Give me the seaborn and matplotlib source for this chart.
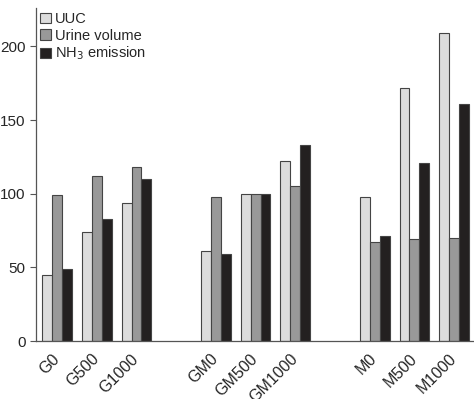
import pandas as pd
import seaborn as sns
import matplotlib.pyplot as plt

treatments = ['G0', 'G500', 'G1000', 'GM0', 'GM500', 'GM1000', 'M0', 'M500', 'M1000']
uuc = [45, 74, 94, 61, 100, 122, 98, 172, 209]
urine_volume = [99, 112, 118, 98, 100, 105, 67, 69, 70]
nh3_emission = [49, 83, 110, 59, 100, 133, 71, 121, 161]
series_names = ['UUC', 'Urine volume', 'NH$_3$ emission']

# blank slots between the G, GM and M groups
order = ['G0', 'G500', 'G1000', '', 'GM0', 'GM500', 'GM1000', ' ', 'M0', 'M500', 'M1000']

df = pd.DataFrame({'treatment': treatments,
                   series_names[0]: uuc,
                   series_names[1]: urine_volume,
                   series_names[2]: nh3_emission})
df = df.melt(id_vars='treatment', var_name='series', value_name='value')

sns.set_style('ticks')
plt.rcParams['font.family'] = ['Liberation Sans', 'DejaVu Sans']

fig = plt.figure(figsize=(4.74, 3.99), dpi=100)
ax = fig.add_axes([0.076, 0.145, 0.924, 0.835])

sns.barplot(data=df, x='treatment', y='value', hue='series', order=order,
            hue_order=series_names, palette=['#dcdcdc', '#999999', '#231f20'],
            width=0.75, edgecolor='#444444', linewidth=0.8, ax=ax)

ax.set_xlim(-0.53, 10.5)
ax.set_ylim(0, 226)
ax.set_yticks([0, 50, 100, 150, 200])
ax.set_xlabel('')
ax.set_ylabel('')
ax.tick_params(axis='y', labelsize=11, length=4, width=0.8, color='#555555')
ax.tick_params(axis='x', labelsize=11.5, length=0, pad=11)
for lab in ax.get_xticklabels():
    lab.set_rotation(45)
    lab.set_ha('right')
    lab.set_va('center')
    lab.set_rotation_mode('anchor')
for s in ['top', 'right']:
    ax.spines[s].set_visible(False)
for s in ['left', 'bottom']:
    ax.spines[s].set_color('#555555')
    ax.spines[s].set_linewidth(0.9)

leg = ax.legend(loc='upper left', bbox_to_anchor=(0.0, 1.0), frameon=False,
                fontsize=10.5, handlelength=0.7, handleheight=0.7,
                handletextpad=0.3, labelspacing=0.15, borderaxespad=0.2,
                borderpad=0.1)

fig.savefig('out.png', dpi=100)
